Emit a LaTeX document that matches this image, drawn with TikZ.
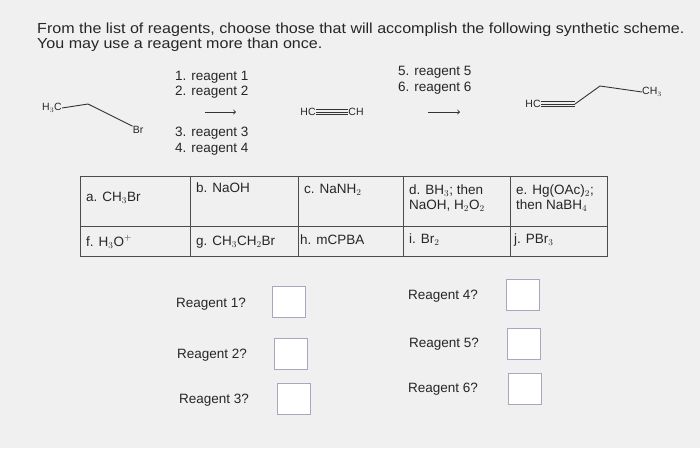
\documentclass[tikz,border=0pt]{standalone}
\usepackage{fontspec}
\setmainfont{Liberation Sans}
\begin{document}
\begin{tikzpicture}[x=1pt,y=-1pt,
  t/.style={anchor=west,inner sep=0pt,font=\fontsize{13.5}{14.5}\selectfont,text=black!85},
  s/.style={inner sep=0pt,font=\fontsize{10.5}{11}\selectfont,text=black!85},
  bond/.style={line width=0.9pt,black!80},
  ansbox/.style={draw=blue!15!gray!60,line width=1.4pt,fill=white,minimum width=33pt,minimum height=31pt,inner sep=0pt},
  cell/.style={t}]
\fill[black!6] (0,0) rectangle (700,448);
\useasboundingbox (0,0) rectangle (700,448);
\node[t,font=\fontsize{14.6}{15}\selectfont,xscale=1.1] (h1) at (37,30) {From the list of reagents, choose those that will accomplish the following synthetic scheme.};
\node[t,font=\fontsize{14.6}{15}\selectfont,xscale=1.1] (h2) at (37,45) {You may use a reagent more than once.};
% reagents left
\node[t] (r1) at (175,77) {1. reagent 1};
\node[t] (r2) at (175,92) {2. reagent 2};
\node[t] (r3) at (175,133) {3. reagent 3};
\node[t] (r4) at (175,149) {4. reagent 4};
\coordinate (a1s) at (205,112); \coordinate (a1e) at (236,112);
\draw[->,bond] (a1s) -- (a1e);
\node[t] (r5) at (398,72) {5. reagent 5};
\node[t] (r6) at (398,88) {6. reagent 6};
\coordinate (a2s) at (428,112); \coordinate (a2e) at (460,112);
\draw[->,bond] (a2s) -- (a2e);
% starting material
\node[s] (h3c) at (52,108) {H$_3$C};
\node[s] (br) at (138,130) {Br};
\coordinate (c1) at (88,104);
\draw[bond] (h3c.east) -- (c1) -- (br.north west);
% acetylene
\node[s] (hc1) at (308,112) {HC};
\node[s] (ch1) at (356,112) {CH};
\draw[bond] ([yshift=-2.5pt]hc1.east) -- ([yshift=-2.5pt]ch1.west);
\draw[bond] (hc1.east) -- (ch1.west);
\draw[bond] ([yshift=2.5pt]hc1.east) -- ([yshift=2.5pt]ch1.west);
% product
\node[s] (hc2) at (533,104) {HC};
\coordinate (p1) at (575,104); \coordinate (p2) at (600,86);
\node[s] (ch3) at (652,92) {CH$_3$};
\draw[bond] ([yshift=-2.5pt]hc2.east) -- ([yshift=-2.5pt]p1);
\draw[bond] (hc2.east) -- (p1);
\draw[bond] ([yshift=2.5pt]hc2.east) -- ([yshift=2.5pt]p1);
\draw[bond] (p1) -- (p2) -- (ch3.west);
% table
\draw[line width=1pt,black!70] (80,176) rectangle (607,256);
\draw[line width=1pt,black!70] (80,226) -- (607,226);
\foreach \x in {190,298,403,510} \draw[line width=1pt,black!70] (\x,176) -- (\x,256);
\node[cell] (ta) at (86,198) {a. CH$_3$Br};
\node[cell] (tb) at (196,188) {b. NaOH};
\node[cell] (tc) at (304,190) {c. NaNH$_2$};
\node[cell,align=left] (td) at (409,198) {d. BH$_3$; then\\NaOH, H$_2$O$_2$};
\node[cell,align=left] (te) at (516,198) {e. Hg(OAc)$_2$;\\then NaBH$_4$};
\node[cell] (tf) at (86,242) {f. H$_3$O$^+$};
\node[cell] (tg) at (196,242) {g. CH$_3$CH$_2$Br};
\node[cell] (th) at (300,240) {h. mCPBA};
\node[cell] (ti) at (409,240) {i. Br$_2$};
\node[cell] (tj) at (514,240) {j. PBr$_3$};
% answers
\node[t] (q1) at (176,304) {Reagent 1?};
\node[ansbox] (b1) at (289,302) {};
\node[t] (q2) at (177,355) {Reagent 2?};
\node[ansbox] (b2) at (291,354) {};
\node[t] (q3) at (179,400) {Reagent 3?};
\node[ansbox] (b3) at (294,399) {};
\node[t] (q4) at (408,296) {Reagent 4?};
\node[ansbox] (b4) at (523,295) {};
\node[t] (q5) at (409,344) {Reagent 5?};
\node[ansbox] (b5) at (524,344) {};
\node[t] (q6) at (408,389) {Reagent 6?};
\node[ansbox] (b6) at (525,389) {};
\end{tikzpicture}
\end{document}
